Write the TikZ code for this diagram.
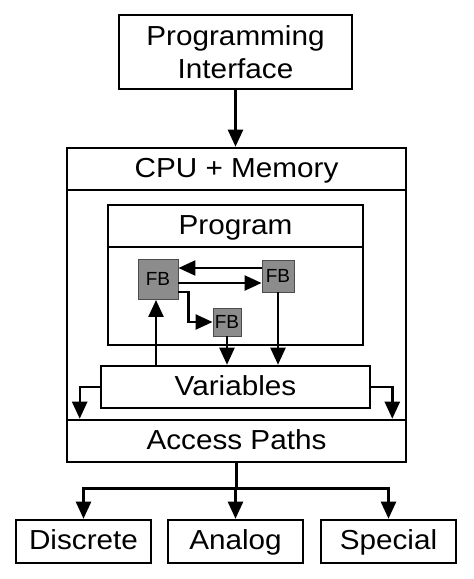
\documentclass[tikz,border=0pt]{standalone}
\usepackage{fontspec}
\setmainfont{Liberation Sans}
\newfontfamily\widefont{Liberation Sans}[FakeStretch=1.08]
\usetikzlibrary{arrows.meta,calc}
\begin{document}
\begin{tikzpicture}[x=1pt,y=-1pt,
  box/.style={draw=black,line width=2.6pt,rectangle,inner sep=0pt,font=\widefont\fontsize{27.5}{33}\selectfont,text height=20pt,text depth=4pt},
  mbox/.style={draw=black,line width=2.6pt,rectangle,inner sep=0pt,font=\widefont\fontsize{27.5}{33}\selectfont,align=center},
  fb/.style={draw=black!70,line width=0.9pt,fill=black!45,rectangle,inner sep=0pt,font=\fontsize{19}{20}\selectfont,text height=13.5pt,text depth=1pt},
  arr/.style={line width=2.4pt,-{Triangle[length=17pt,width=15pt]}},
  ln/.style={line width=2.4pt}]
\useasboundingbox (0,0) rectangle (474,579);
% top
\node[mbox,minimum width=233pt,minimum height=74pt] (pi) at (235.5,52) {Programming\\Interface};
% CPU
\node[box,minimum width=339pt,minimum height=42pt] (cpuhead) at (236.5,169) {CPU + Memory};
\node[box,minimum width=339pt,minimum height=230pt] (cpubody) at (236.5,305) {};
\node[box,minimum width=339pt,minimum height=42pt] (access) at (236.5,441) {Access Paths};
% program
\node[box,minimum width=255pt,minimum height=42pt] (proghead) at (235.5,226) {Program};
\node[box,minimum width=255pt,minimum height=98pt] (progbody) at (235.5,296) {};
% FBs
\node[fb,minimum width=40pt,minimum height=40pt] (fb1) at (158,279.5) {FB};
\node[fb,minimum width=32pt,minimum height=32pt] (fb2) at (278,276) {FB};
\node[fb,minimum width=28pt,minimum height=28pt] (fb3) at (227,322) {FB};
% variables
\node[box,minimum width=269pt,minimum height=42pt] (vars) at (235.5,387) {Variables};
% bottom
\node[box,minimum width=135pt,minimum height=43pt] (disc) at (83.5,541.5) {Discrete};
\node[box,minimum width=135pt,minimum height=43pt] (anal) at (235.5,541.5) {Analog};
\node[box,minimum width=135pt,minimum height=43pt] (spec) at (388.5,541.5) {Special};
% connectors
\draw[arr] (pi.south) -- (pi.south |- cpuhead.north);
\draw[arr] ([yshift=8pt]fb2.west) -- ([yshift=8pt]fb2.west -| fb1.east);
\draw[arr] ([yshift=-3.5pt]fb1.east) -- ([yshift=-3.5pt]fb1.east -| fb2.west);
\draw[arr] ([yshift=-12.5pt]fb1.east) -- ++(10,0) |- (fb3.west);
\draw[arr] (fb3.south) -- (fb3.south |- vars.north);
\draw[arr] (fb2.south) -- (fb2.south |- vars.north);
\draw[arr] ([xshift=-2pt]fb1.south |- vars.north) -- ([xshift=-2pt]fb1.south);
\draw[arr] (vars.west) -| ([xshift=14pt]access.north west);
\draw[arr] (vars.east) -| ([xshift=-15pt]access.north east);
\draw[ln] (access.south) -- ++(0,25) coordinate (split);
\draw[arr] (split) -| (disc.north);
\draw[arr] (split) -| (spec.north);
\draw[arr] (split) -- (split -| anal.north) -- (anal.north);
\end{tikzpicture}
\end{document}
